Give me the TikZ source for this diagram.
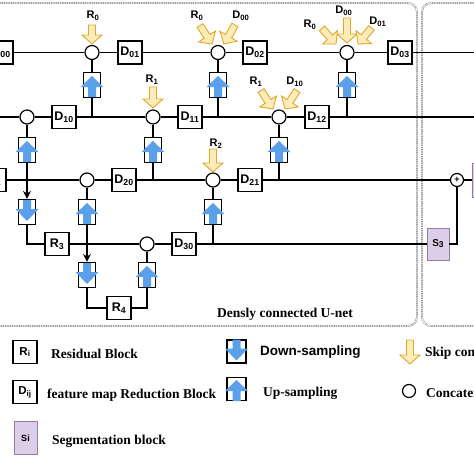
\documentclass[tikz,border=0pt]{standalone}
\usepackage{fontspec}
\setmainfont{Liberation Serif}
\newfontfamily\arialf{Liberation Sans}
\usetikzlibrary{arrows.meta}
\definecolor{blu}{RGB}{90,160,235}
\definecolor{skipfill}{RGB}{252,236,185}
\definecolor{skipdraw}{RGB}{225,168,40}
\definecolor{segfill}{RGB}{221,206,232}
\definecolor{segdraw}{RGB}{150,122,172}
\definecolor{framec}{RGB}{110,110,110}
\newcommand\sublab[2]{#1\textsubscript{#2}}
\newcommand\skiparr[4]{\draw[skiparrow, shift={(#1,#2)}, rotate=#3] (0,0) -- (-10,-9) -- (-3.5,-9) -- (-3.5,-#4) -- (3.5,-#4) -- (3.5,-9) -- (10,-9) -- cycle;}
\newcommand\uparr[1]{\fill[blu, shift={(#1.center)}] (0,-9) -- (11.5,2) -- (4,2) -- (4,12) -- (-4,12) -- (-4,2) -- (-11.5,2) -- cycle;}
\newcommand\dnarr[1]{\fill[blu, shift={(#1.center)}] (0,9) -- (11.5,-3) -- (4,-3) -- (4,-12) -- (-4,-12) -- (-4,-3) -- (-11.5,-3) -- cycle;}
\begin{document}
\begin{tikzpicture}[x=1pt,y=-1pt,
  ln/.style={line width=1.3pt},
  blk/.style={draw, line width=1.2pt, fill=white, minimum width=24pt, minimum height=23pt, inner sep=0pt, font=\arialf\bfseries\fontsize{12.5}{12.5}\selectfont},
  cat/.style={circle, draw, line width=1.2pt, fill=white, minimum size=14pt, inner sep=0pt},
  samp/.style={draw, line width=1.2pt, fill=white, minimum width=17pt, minimum height=25pt, inner sep=0pt},
  seg/.style={draw=segdraw, fill=segfill, line width=0.8pt, minimum width=22pt, minimum height=32pt, inner sep=0pt, font=\arialf\bfseries\fontsize{10}{10}\selectfont},
  skiparrow/.style={draw=skipdraw, fill=skipfill, line width=0.9pt, line join=miter},
  skl/.style={font=\arialf\bfseries\fontsize{11}{11}\selectfont, inner sep=0pt},
  legt/.style={anchor=west, inner sep=0pt, font=\bfseries\fontsize{13.5}{14}\selectfont},
  frame/.style={draw=framec, line width=0.5pt, dash pattern=on 1pt off 0.8pt, double=white, double distance=0.9pt, rounded corners=9pt},
  arr/.style={ln, -{Stealth[length=8pt,width=8pt]}}]
\useasboundingbox (0,0) rectangle (474,474);
% frames
\draw[frame] (-20,3) rectangle (417,326);
\draw[frame] (422,3) rectangle (500,326);
% row 0
\node[blk] (D00) at (1,52.5) {\sublab{D}{00}};
\node[cat] (c01) at (92,52.5) {};
\node[blk] (D01) at (130,52.5) {\sublab{D}{01}};
\node[cat] (c02) at (218,52.5) {};
\node[blk] (D02) at (255,52.5) {\sublab{D}{02}};
\node[cat] (c03) at (347,52.5) {};
\node[blk] (D03) at (400,52.5) {\sublab{D}{03}};
\coordinate (E0) at (474,52.5);
\node[samp] (u01) at (92,85) {};
\node[samp] (u02) at (218,85) {};
\node[samp] (u03) at (347,85) {};
% row 1
\coordinate (W1) at (0,117);
\node[cat] (c10) at (27,117) {};
\node[blk] (D10) at (64,117) {\sublab{D}{10}};
\node[cat] (c11) at (153,117) {};
\node[blk] (D11) at (190,117) {\sublab{D}{11}};
\node[cat] (c12) at (279,117) {};
\node[blk] (D12) at (317,117) {\sublab{D}{12}};
\coordinate (E1) at (474,117);
\coordinate (j01) at (92,117);
\coordinate (j02) at (218,117);
\coordinate (j03) at (347,117);
\node[samp] (u10) at (27,150) {};
\node[samp] (u11) at (153,150) {};
\node[samp] (u12) at (279,150) {};
% row 2
\node[blk] (R2) at (-6,180) {\sublab{R}{2}};
\node[cat] (c20) at (87,180) {};
\node[blk] (D20) at (124,180) {\sublab{D}{20}};
\node[cat] (c21) at (213,180) {};
\node[blk] (D21) at (250,180) {\sublab{D}{21}};
\node[circle, draw, line width=1.2pt, fill=white, minimum size=13pt, inner sep=0pt, font=\arialf\bfseries\fontsize{9}{9}\selectfont] (op) at (457,180) {+};
\node[seg, minimum height=34pt] (Sx) at (483,180) {};
\coordinate (j10) at (27,180);
\coordinate (j11) at (153,180);
\coordinate (j12) at (279,180);
\node[samp] (d2) at (27,212) {};
\node[samp] (u20) at (87,212) {};
\node[samp] (u21) at (213,212) {};
% row 3
\node[blk] (R3) at (57,244) {\sublab{R}{3}};
\node[cat] (c30) at (147,244) {};
\node[blk] (D30) at (184,244) {\sublab{D}{30}};
\node[seg] (S3) at (438,244) {S\raisebox{-1pt}{\fontsize{8.5}{8.5}\selectfont 3}};
\coordinate (j20) at (87,244);
\coordinate (j21) at (213,244);
\node[samp] (d3) at (87,275) {};
\node[samp] (u30) at (147,275) {};
% row 4
\node[blk] (R4) at (119,308) {\sublab{R}{4}};
% connectors
\draw[ln] (D00) -- (c01) -- (D01) -- (c02) -- (D02) -- (c03) -- (D03) -- (E0);
\draw[ln] (c01) -- (u01) -- (j01);
\draw[ln] (c02) -- (u02) -- (j02);
\draw[ln] (c03) -- (u03) -- (j03);
\draw[ln] (W1) -- (c10) -- (D10) -- (c11) -- (D11) -- (c12) -- (D12) -- (E1);
\draw[ln] (c10) -- (u10) -- (j10);
\draw[arr] (j10) -- (d2);
\draw[ln] (c11) -- (u11) -- (j11);
\draw[ln] (c12) -- (u12) -- (j12);
\draw[ln] (R2) -- (c20) -- (D20) -- (c21) -- (D21) -- (op) -- (Sx);
\draw[ln] (c20) -- (u20) -- (j20);
\draw[arr] (j20) -- (d3);
\draw[ln] (c21) -- (u21) -- (j21);
\draw[ln] (d2) -- (d2 |- R3) -- (R3) -- (c30) -- (D30) -- (S3);
\draw[ln] (S3) -- (S3 -| op) -- (op);
\draw[ln] (d3) -- (d3 |- R4) -- (R4) -- (u30 |- R4) -- (u30) -- (c30);
% blue arrows
\uparr{u01}\uparr{u02}\uparr{u03}
\uparr{u10}\uparr{u11}\uparr{u12}
\uparr{u20}\uparr{u21}\uparr{u30}
\dnarr{d2}\dnarr{d3}
% skip arrows
\skiparr{92}{44}{0}{19}
\node[skl] (s1) at (93,16) {\sublab{R}{0}};
\skiparr{212}{44}{33}{22}
\skiparr{224}{44}{-30}{22}
\node[skl] (s2) at (197,16) {\sublab{R}{0}};
\node[skl] (s3) at (241,16) {\sublab{D}{00}};
\skiparr{347}{43}{0}{25}
\skiparr{336}{44}{42}{21}
\skiparr{358}{44}{-40}{21}
\node[skl] (s4) at (344,11) {\sublab{D}{00}};
\node[skl] (s5) at (310,25) {\sublab{R}{0}};
\node[skl] (s6) at (378,22) {\sublab{D}{01}};
\skiparr{153}{108}{0}{21}
\node[skl] (s7) at (152,80) {\sublab{R}{1}};
\skiparr{273}{109}{33}{22}
\skiparr{285}{109}{-33}{22}
\node[skl] (s8) at (256,82) {\sublab{R}{1}};
\node[skl] (s9) at (295,82) {\sublab{D}{10}};
\skiparr{213}{172}{0}{23}
\node[skl] (s10) at (216,144) {\sublab{R}{2}};
% title
\node[anchor=west, inner sep=0pt, font=\bfseries\fontsize{13.5}{14}\selectfont] (title) at (217,314) {Densly connected U-net};
% legend
\node[blk, font=\arialf\bfseries\fontsize{11.5}{11.5}\selectfont] (LR) at (25,352) {\sublab{R}{i}};
\node[legt] (LRt) at (51,354) {Residual Block};
\node[blk, font=\arialf\bfseries\fontsize{11.5}{11.5}\selectfont] (LD) at (25,392) {\sublab{D}{ij}};
\node[legt] (LDt) at (47,395) {feature map Reduction Block};
\node[seg, minimum width=23pt, minimum height=33pt, font=\arialf\bfseries\fontsize{9}{9}\selectfont] (LS) at (25.5,438) {Si};
\node[legt] (LSt) at (52,441) {Segmentation block};
\node[samp, minimum width=19pt, minimum height=23pt] (Ldn) at (236.5,351.5) {};
\dnarr{Ldn}
\node[anchor=west, inner sep=0pt, font=\arialf\bfseries\fontsize{13.5}{14}\selectfont] (Ldnt) at (260,352) {Down-sampling};
\node[samp, minimum width=19pt, minimum height=23pt] (Lup) at (236.5,389) {};
\uparr{Lup}
\node[legt] (Lupt) at (263,393) {Up-sampling};
\skiparr{410}{364}{0}{24}
\node[legt] (Lskt) at (425,353) {Skip connection};
\node[cat, minimum size=13pt] (Lc) at (409,391) {};
\node[legt] (Lct) at (426,393) {Concatenation};
\end{tikzpicture}
\end{document}
